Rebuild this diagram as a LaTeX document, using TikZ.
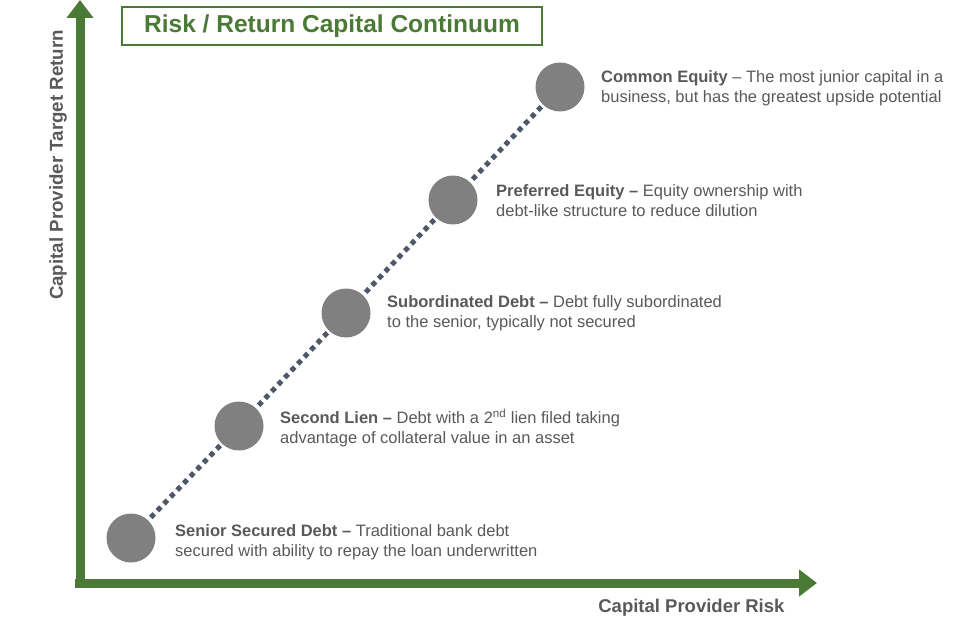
\documentclass[tikz,border=0pt]{standalone}
\usepackage{fontspec}
\setmainfont{Liberation Sans}
\usetikzlibrary{arrows.meta}
\definecolor{axgreen}{HTML}{4A7A35}
\definecolor{txtgray}{HTML}{595959}
\definecolor{dotc}{HTML}{4D5868}
\definecolor{circ}{HTML}{808080}
\begin{document}
\begin{tikzpicture}[x=1pt,y=-1pt,
  stage/.style={circle,fill=circ,minimum size=49pt,inner sep=0pt},
  desc/.style={anchor=west,align=left,text=txtgray,font=\fontsize{16.5}{20}\selectfont,inner sep=0pt},
  axis/.style={draw=axgreen,line width=9pt,-{Triangle[length=18pt,width=26pt]}}]
\useasboundingbox (0,0) rectangle (969,631);
\coordinate (O) at (75,583);
\coordinate (yt) at (80,0);
\coordinate (xr) at (817,583);
\draw[axis] (80,587.5) -- (yt);
\draw[axis] (O) -- (xr);
\node[draw=axgreen,line width=2pt,minimum width=420pt,minimum height=38pt,text=axgreen,font=\fontsize{24.5}{26}\selectfont\bfseries] (title) at (332,26) {Risk / Return Capital Continuum};
\node[rotate=90,text=txtgray,font=\fontsize{18.7}{20}\selectfont\bfseries] (ylab) at (58,165) {Capital Provider Target Return};
\node[text=txtgray,font=\fontsize{18.5}{20}\selectfont\bfseries,anchor=east] (xlab) at (788,608) {Capital Provider Risk};
\foreach \n/\x/\y in {s1/131/538,s2/239/426,s3/346/313,s4/453/200,s5/560/87}
  \coordinate (\n) at (\x,\y);
\foreach \a/\b in {s1/s2,s2/s3,s3/s4,s4/s5}
  \draw[dotc,line width=5pt,dash pattern=on 5pt off 4.5pt] (\a) -- (\b);
\foreach \n in {s1,s2,s3,s4,s5}
  \node[stage] (c\n) at (\n) {};
\node[desc] (t1) at (175,542) {\textbf{Senior Secured Debt –} Traditional bank debt\\secured with ability to repay the loan underwritten};
\node[desc] (t2) at (280,428) {\textbf{Second Lien –} Debt with a 2\textsuperscript{nd} lien filed taking\\advantage of collateral value in an asset};
\node[desc] (t3) at (387,313) {\textbf{Subordinated Debt –} Debt fully subordinated\\to the senior, typically not secured};
\node[desc] (t4) at (496,201) {\textbf{Preferred Equity –} Equity ownership with\\debt-like structure to reduce dilution};
\node[desc] (t5) at (601,88) {\textbf{Common Equity} – The most junior capital in a\\business, but has the greatest upside potential};
\end{tikzpicture}
\end{document}
